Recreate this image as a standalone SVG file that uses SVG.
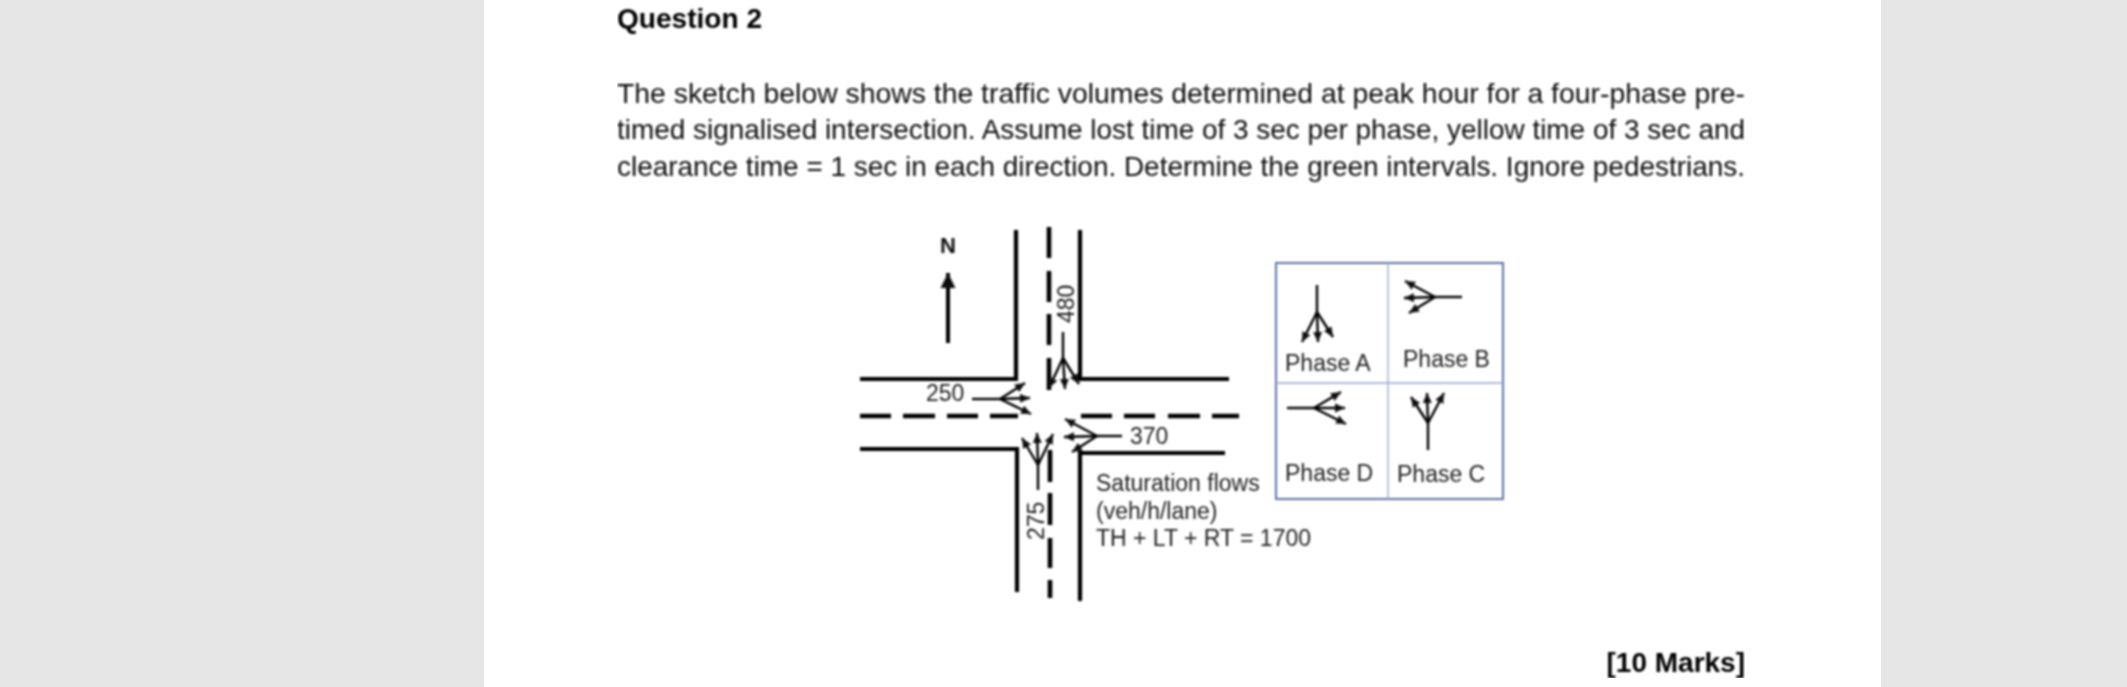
<svg xmlns="http://www.w3.org/2000/svg" width="2127" height="687" viewBox="0 0 2127 687">
<defs>
<marker id="ah" markerUnits="userSpaceOnUse" markerWidth="11" markerHeight="11" refX="10" refY="5.5" orient="auto"><path d="M0,1 L10,5.5 L0,10 Z" fill="#111"/></marker>
<marker id="nh" markerUnits="userSpaceOnUse" markerWidth="18" markerHeight="18" refX="15" refY="9" orient="auto"><path d="M0,1.5 L15,9 L0,16.5 Z" fill="#111"/></marker>
<filter id="soft" x="0" y="0" width="1" height="1" filterUnits="objectBoundingBox"><feGaussianBlur stdDeviation="0.8"/></filter>
</defs>
<style>
text{font-family:"Liberation Sans",Arial,sans-serif;fill:#222}
.body{font-size:28px;fill:#111}
.head{font-size:28px;font-weight:bold;fill:#000}
.lab{font-size:23px;fill:#222}
.wall{stroke:#000;stroke-width:4.2;fill:none}
.dash{stroke:#000;stroke-width:4.6;fill:none}
.flow{stroke:#000;stroke-width:2.4;fill:none}
.tip{marker-end:url(#ah)}
.outer{stroke:#5c72a6;stroke-width:2;fill:none}
.inner{stroke:#92a7d4;stroke-width:1.3;fill:none}
</style>
<rect width="2127" height="687" fill="#e6e6e6"/>
<rect x="484" y="0" width="1397" height="687" fill="#fff"/>
<g filter="url(#soft)">
<g id="question-text">
<text class="head" x="617" y="28" textLength="145" lengthAdjust="spacingAndGlyphs">Question 2</text>
<text class="body" x="617" y="103" textLength="1128" lengthAdjust="spacingAndGlyphs">The sketch below shows the traffic volumes determined at peak hour for a four-phase pre-</text>
<text class="body" x="617" y="139" textLength="1128" lengthAdjust="spacingAndGlyphs">timed signalised intersection. Assume lost time of 3 sec per phase, yellow time of 3 sec and</text>
<text class="body" x="617" y="176" textLength="1128" lengthAdjust="spacingAndGlyphs">clearance time = 1 sec in each direction. Determine the green intervals. Ignore pedestrians.</text>
<text class="head" x="1745" y="672" text-anchor="end">[10 Marks]</text>
</g>
<g id="intersection">
<path class="wall" d="M1016,230 V379 H860 M1080,230 V379 H1229 M860,449 H1017 V592 M1225,453 H1080 V601"/>
<path class="dash" d="M860,416 H891 M903,416 H935 M947,416 H978 M990,416 H1018 M1081,416 H1112 M1124,416 H1155 M1168,416 H1200 M1212,416 H1239"/>
<path class="dash" d="M1049,227 V258 M1049,271 V302 M1049,314 V345 M1049,358 V390 M1050,450 V482 M1050,493 V525 M1050,538 V568 M1050,580 V598"/>
</g>
<g id="north-arrow">
<text x="948" y="253" text-anchor="middle" font-size="22" font-weight="bold" style="fill:#111">N</text>
<line x1="948" y1="343" x2="948" y2="273" stroke="#000" stroke-width="4" marker-end="url(#nh)"/>
</g>
<g id="connectors">
<g id="flow-south">
<path class="flow" d="M1063,332 V358"/>
<path class="flow tip" d="M1063,358 L1049,388"/><path class="flow tip" d="M1063,358 L1065,389"/><path class="flow tip" d="M1063,358 L1079,384"/>
</g>
<g id="flow-east">
<path class="flow" d="M972,399 H1000"/>
<path class="flow tip" d="M1000,399 L1025,383"/><path class="flow tip" d="M1000,399 L1030,398"/><path class="flow tip" d="M1000,399 L1031,414"/>
</g>
<g id="flow-west">
<path class="flow" d="M1122,436 H1097"/>
<path class="flow tip" d="M1097,436 L1065,419"/><path class="flow tip" d="M1097,436 L1064,437"/><path class="flow tip" d="M1097,436 L1072,452"/>
</g>
<g id="flow-north">
<path class="flow" d="M1038,490 V465"/>
<path class="flow tip" d="M1038,465 L1022,438"/><path class="flow tip" d="M1038,465 L1037,433"/><path class="flow tip" d="M1038,465 L1053,434"/>
</g>
</g>
<g id="volume-labels">
<text class="lab" x="926" y="401">250</text>
<text class="lab" x="1130" y="444">370</text>
<text class="lab" transform="translate(1074,323) rotate(-90)">480</text>
<text class="lab" transform="translate(1044,540) rotate(-90)">275</text>
</g>
<g id="saturation-note">
<text class="lab" x="1096" y="491">Saturation flows</text>
<text class="lab" x="1096" y="519">(veh/h/lane)</text>
<text class="lab" x="1096" y="546">TH + LT + RT = 1700</text>
</g>
<g id="phase-table">
<rect class="outer" x="1276" y="263" width="227" height="236"/>
<path class="inner" d="M1388,263 V499 M1276,383 H1503"/>
</g>
<g id="phase-a">
<path class="flow" d="M1317,285 V312"/>
<path class="flow tip" d="M1317,312 L1302,342"/><path class="flow tip" d="M1317,312 L1318,342"/><path class="flow tip" d="M1317,312 L1333,337"/>
<text class="lab" x="1285" y="371">Phase A</text>
</g>
<g id="phase-b">
<path class="flow" d="M1462,297 H1435"/>
<path class="flow tip" d="M1435,297 L1405,281"/><path class="flow tip" d="M1435,297 L1404,298"/><path class="flow tip" d="M1435,297 L1409,313"/>
<text class="lab" x="1403" y="367">Phase B</text>
</g>
<g id="phase-d">
<path class="flow" d="M1287,408 H1314"/>
<path class="flow tip" d="M1314,408 L1341,392"/><path class="flow tip" d="M1314,408 L1345,408"/><path class="flow tip" d="M1314,408 L1346,424"/>
<text class="lab" x="1285" y="481">Phase D</text>
</g>
<g id="phase-c">
<path class="flow" d="M1428,450 V423"/>
<path class="flow tip" d="M1428,423 L1411,397"/><path class="flow tip" d="M1428,423 L1427,393"/><path class="flow tip" d="M1428,423 L1444,393"/>
<text class="lab" x="1397" y="482">Phase C</text>
</g>
</g>
</svg>
